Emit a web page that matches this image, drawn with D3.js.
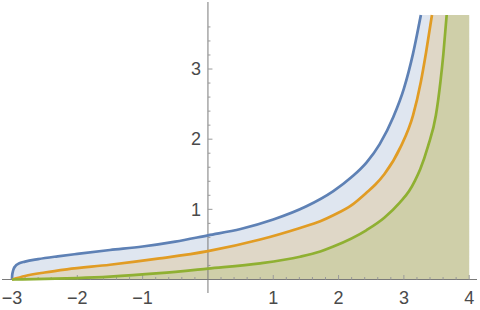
<!DOCTYPE html>
<html>
<head>
<meta charset="utf-8">
<script src="https://cdn.jsdelivr.net/npm/d3@7"></script>
<style>
  body { margin: 0; background: #fff; }
  svg { display: block; }
  .lbl { font-family: "Liberation Sans", Arial, sans-serif; font-size: 18px; fill: #4a4a4a; }
</style>
</head>
<body>
<div class="chart"></div>
<script>
// values
var blueX = [-3, -2.998, -2.99, -2.975, -2.95, -2.9, -2.8, -2.6, -2.3, -2, -1.5, -1, -0.5, 0, 0.5, 1, 1.5, 1.92, 2.2, 2.43, 2.63, 2.84, 3.0, 3.14, 3.26];
var blueY = [0, 0.05, 0.1, 0.15, 0.19, 0.225, 0.255, 0.29, 0.33, 0.365, 0.42, 0.47, 0.54, 0.63, 0.72, 0.855, 1.04, 1.26, 1.46, 1.67, 1.93, 2.32, 2.72, 3.22, 3.77];

var orangeX = [-3, -2.8, -2.5, -2.16, -1.5, -0.74, 0, 0.8, 1.41, 1.72, 1.92, 2.2, 2.43, 2.56, 2.7, 2.95, 3.14, 3.26, 3.34, 3.43];
var orangeY = [0, 0.05, 0.1, 0.145, 0.21, 0.30, 0.405, 0.57, 0.735, 0.83, 0.915, 1.06, 1.24, 1.35, 1.5, 1.89, 2.34, 2.82, 3.24, 3.77];

var greenX = [-3, -2.5, -2, -1.5, -0.74, 0, 0.8, 1.41, 1.72, 1.92, 2.43, 2.7, 2.94, 3.08, 3.17, 3.25, 3.37, 3.49, 3.56, 3.605, 3.655];
var greenY = [0, 0.008, 0.02, 0.04, 0.09, 0.155, 0.23, 0.325, 0.40, 0.47, 0.705, 0.88, 1.1, 1.26, 1.41, 1.57, 1.9, 2.34, 2.82, 3.22, 3.77];

var xTickLabels = [-3, -2, -1, 1, 2, 3, 4];
var yTickLabels = [1, 2, 3];

var xMin = -3, xMax = 4, yMax = 3.77;

var width = 480, height = 310;

var x = d3.scaleLinear().domain([xMin, xMax]).range([12, 469.2]);
var y = d3.scaleLinear().domain([0, yMax]).range([279.5, 15]);

var svg = d3.select(".chart").append("svg")
    .attr("width", width)
    .attr("height", height);

var series = [
  {xs: blueX, ys: blueY, color: "#5E81B5"},
  {xs: orangeX, ys: orangeY, color: "#E19C24"},
  {xs: greenX, ys: greenY, color: "#8FB032"}
];
series.forEach(function (s) {
  s.pts = s.xs.map(function (v, i) { return [v, s.ys[i]]; });
});

var line = d3.line()
  .x(function (d) { return x(d[0]); })
  .y(function (d) { return y(d[1]); })
  .curve(d3.curveMonotoneX);

var area = d3.area()
  .x(function (d) { return x(d[0]); })
  .y0(y(0))
  .y1(function (d) { return y(d[1]); })
  .curve(d3.curveMonotoneX);

// fillings to the axis, clipped at the top of the plot range
series.forEach(function (s) {
  svg.append("path")
    .datum(s.pts.concat([[xMax, yMax]]))
    .attr("fill", s.color)
    .attr("fill-opacity", 0.2)
    .attr("d", area);
});

// axes
var axisColor = "#7a7a7a";
var tickColor = "#9a9a9a";

svg.append("line")
  .attr("x1", 2).attr("x2", 477)
  .attr("y1", y(0)).attr("y2", y(0))
  .attr("stroke", axisColor).attr("stroke-width", 1);

svg.append("line")
  .attr("x1", x(0)).attr("x2", x(0))
  .attr("y1", 2).attr("y2", 293)
  .attr("stroke", axisColor).attr("stroke-width", 1);

var xMinor = d3.range(-15, 21).map(function (i) { return i / 5; });
svg.append("g").selectAll("line")
  .data(xMinor.filter(function (v) { return v !== 0; }))
  .enter().append("line")
    .attr("x1", function (d) { return x(d); })
    .attr("x2", function (d) { return x(d); })
    .attr("y1", y(0))
    .attr("y2", function (d) { return y(0) - (Math.abs(d - Math.round(d)) < 1e-9 ? 4.5 : 2.5); })
    .attr("stroke", tickColor).attr("stroke-width", 1);

var yMinor = d3.range(1, 19).map(function (i) { return i / 5; });
svg.append("g").selectAll("line")
  .data(yMinor)
  .enter().append("line")
    .attr("y1", function (d) { return y(d); })
    .attr("y2", function (d) { return y(d); })
    .attr("x1", x(0))
    .attr("x2", function (d) { return x(0) + (Math.abs(d - Math.round(d)) < 1e-9 ? 4.5 : 2.5); })
    .attr("stroke", tickColor).attr("stroke-width", 1);

svg.append("g").selectAll("text")
  .data(xTickLabels)
  .enter().append("text")
    .attr("class", "lbl")
    .attr("x", function (d) { return x(d); })
    .attr("y", 304)
    .attr("text-anchor", "middle")
    .text(function (d) { return d < 0 ? "\u2212" + Math.abs(d) : d; });

svg.append("g").selectAll("text")
  .data(yTickLabels)
  .enter().append("text")
    .attr("class", "lbl")
    .attr("x", 201)
    .attr("y", function (d) { return y(d); })
    .attr("dy", "0.35em")
    .attr("text-anchor", "end")
    .text(function (d) { return d; });

// curves
series.forEach(function (s) {
  svg.append("path")
    .datum(s.pts)
    .attr("fill", "none")
    .attr("stroke", s.color)
    .attr("stroke-width", 2.7)
    .attr("stroke-linejoin", "round")
    .attr("d", line);
});
</script>
</body>
</html>
